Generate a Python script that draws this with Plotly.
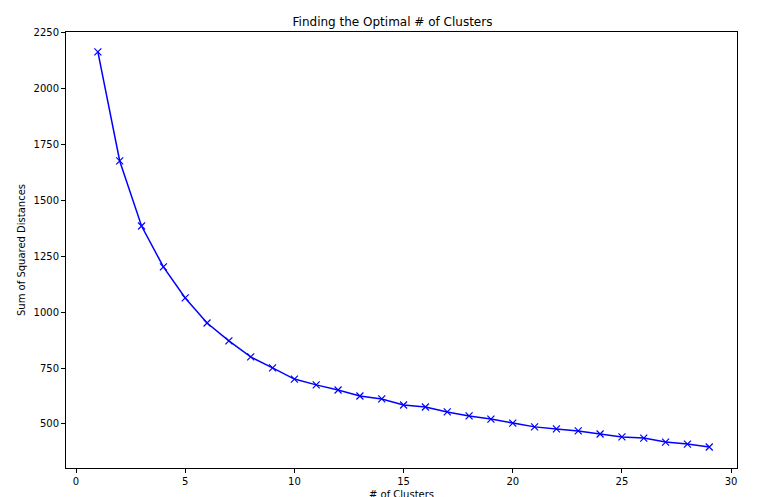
import plotly.graph_objects as go

clusters = list(range(1, 30))
sse = [2165, 1677, 1386, 1203, 1064, 952, 872, 800, 751, 701, 675, 652, 625, 612,
       585, 576, 554, 536, 522, 504, 487, 478, 469, 455, 442, 437, 419, 410, 397]
x_ticks = [0, 5, 10, 15, 20, 25, 30]
y_ticks = [500, 750, 1000, 1250, 1500, 1750, 2000, 2250]

fig = go.Figure(go.Scatter(x=clusters, y=sse, mode="lines+markers",
                           line=dict(color="blue", width=1.5),
                           marker=dict(symbol="x-thin", size=7, line=dict(color="blue", width=1.2), color="blue")))
axis = dict(showgrid=False, zeroline=False, showline=True, mirror=True, linecolor="black",
            linewidth=1, ticks="outside", ticklen=4, tickcolor="black", automargin=False,
            tickfont=dict(size=10))
fig.update_layout(
    width=769, height=497, plot_bgcolor="white", paper_bgcolor="white",
    margin=dict(l=58, r=40, t=24, b=37, autoexpand=False),
    font=dict(family="DejaVu Sans", size=10, color="black"),
    title=dict(text="Finding the Optimal # of Clusters", x=0.5, xanchor="center", y=0.972, yanchor="middle",
               font=dict(size=12)),
    xaxis=dict(axis, range=[-0.46, 30.27], tickvals=x_ticks,
               title=dict(text="# of Clusters", standoff=4, font=dict(size=10))),
    yaxis=dict(axis, range=[303, 2254], tickvals=y_ticks,
               title=dict(text="Sum of Squared Distances", standoff=6, font=dict(size=10))),
    showlegend=False,
)
fig.write_html("out.html")
